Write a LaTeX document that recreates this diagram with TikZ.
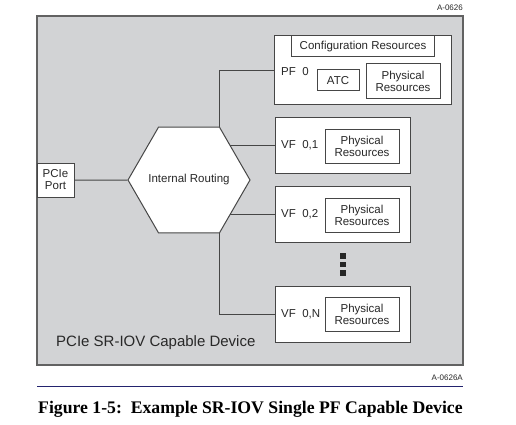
\documentclass[tikz,border=0pt]{standalone}
\usepackage{fontspec}
\setmainfont{Liberation Sans}
\newfontfamily\capfont{Liberation Serif}
\usetikzlibrary{shapes}
\usetikzlibrary{shapes.geometric}
\definecolor{devgray}{RGB}{210,211,213}
\definecolor{linegray}{RGB}{70,70,70}
\definecolor{textgray}{RGB}{40,40,40}
\definecolor{rulenavy}{RGB}{35,35,110}

\begin{document}
\begin{tikzpicture}
			[x=1pt, y=-1pt,
			resbox/.style={rectangle, draw=linegray, fill=white, line width=1pt, inner sep=0pt, align=center, text=textgray, font=\fontsize{11.5}{12}\selectfont},
			txt/.style={anchor=west, inner sep=0pt, text=textgray, font=\fontsize{11.5}{12}\selectfont},
			tag/.style={anchor=east, inner sep=0pt, text=textgray, font=\fontsize{8}{9}\selectfont},
			wire/.style={draw=linegray, line width=1pt}]
			
			\useasboundingbox (0,0) rectangle (516,425);
			\draw[fill=devgray, draw=linegray!85, line width=1.2pt] (37,16) rectangle (463,365);
			
			\node[tag] (topid) at (463,8) {A-0626};
			\node[tag] (botid) at (463,378) {A-0626A};
			
			\node[resbox, minimum width=177, minimum height=69] (PF) at (362.5,70.5) {};
			\node[resbox, minimum width=143, minimum height=21] (config) at (363,46.5) {Configuration Resources};
			\node[txt] (pflabel) at (281,72) {PF\ \ 0};
			\node[resbox, minimum width=42, minimum height=21] (atc) at (338,80.5) {ATC};
			\node[resbox, minimum width=74, minimum height=35] (pfres) at (403,81) {Physical\\Resources};
			
			\node[resbox, minimum width=135, minimum height=56] (vfa) at (342.5,145.5) {};
			\node[txt] (vfalabel) at (281,145.5) {VF\ \ 0,1};
			\node[resbox, minimum width=74, minimum height=34] (vfares) at (362,146) {Physical\\Resources};
			
			\node[resbox, minimum width=135, minimum height=56] (vfb) at (342.5,214.5) {};
			\node[txt] (vfblabel) at (281,214.5) {VF\ \ 0,2};
			\node[resbox, minimum width=74, minimum height=34] (vfbres) at (362,215) {Physical\\Resources};
			
			\node[resbox, minimum width=135, minimum height=56] (vfn) at (342.5,314) {};
			\node[txt] (vfnlabel) at (281,314) {VF\ \ 0,N};
			\node[resbox, minimum width=74, minimum height=34] (vfnres) at (362,314) {Physical\\Resources};
			
			\foreach \y in {256,264.3,273}
				\fill[black!85] (340.2,\y-2.8) rectangle (345.8,\y+2.8);
			
			\node[resbox, minimum width=37, minimum height=34] (port) at (55.5,180) {PCIe\\Port};
			\node[regular polygon, regular polygon sides=6, minimum size=122, draw=linegray, fill=white, line width=1pt, inner sep=0pt, text=textgray, font=\fontsize{11.5}{12}\selectfont] (hex) at (189,180) {\makebox[0pt]{Internal Routing}};
			
			\draw[wire] (port.east) -- (hex.west);
			\draw[wire] (PF.west) -| (hex.60);
			\draw[wire] (vfa.west) -- (vfa.west -| hex.40);
			\draw[wire] (vfb.west) -- (vfb.west -| hex.-40);
			\draw[wire] (hex.-60) |- (vfn.west);
			
			\node[txt, font=\fontsize{15}{18}\selectfont] (devlabel) at (56,343) {PCIe SR-IOV Capable Device};
			
			\draw[rulenavy, line width=1pt] (37,386) -- (463,386);
			\node[anchor=west, inner sep=0pt, text=black, font=\capfont\bfseries\fontsize{17.7}{20}\selectfont] (caption) at (38,409) {Figure 1-5:\ \ Example SR-IOV Single PF Capable Device};
		\end{tikzpicture}
\end{document}
